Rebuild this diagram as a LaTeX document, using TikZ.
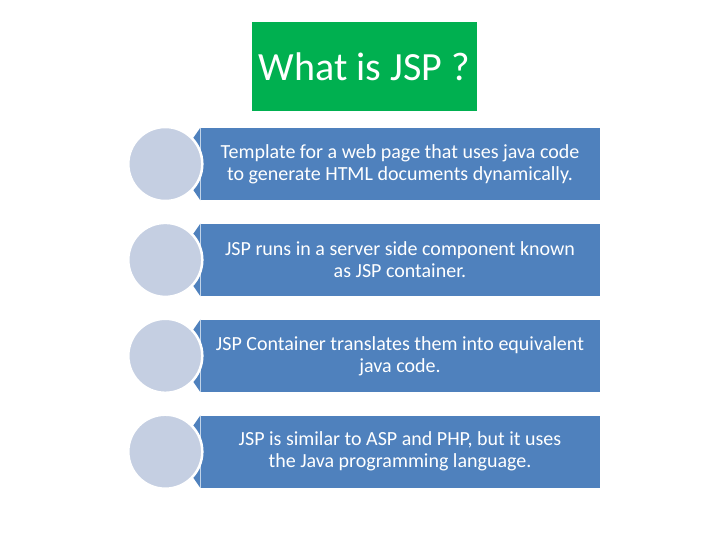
\documentclass[tikz,border=0pt]{standalone}
\usepackage{fontspec}
\setmainfont{Carlito}
\usepackage{tikz}
\usetikzlibrary{calc,positioning}
\definecolor{titlegreen}{HTML}{00B050}
\definecolor{barblue}{HTML}{4F81BD}
\definecolor{dotgrey}{HTML}{C5CFE2}

\begin{document}
\begin{tikzpicture}[x=1pt,y=-1pt,
		titlebox/.style={fill=titlegreen,text=white,minimum width=225pt,minimum height=89pt,
		font=\fontsize{40}{48}\selectfont},
		bar/.style={fill=barblue,text=white,minimum width=399pt,minimum height=72pt,
		align=center,inner sep=0pt,font=\fontsize{20}{22}\selectfont},
		dot/.style={circle,fill=dotgrey,draw=white,line width=2.5pt,minimum size=74pt,inner sep=0pt}
		]
		\useasboundingbox (0,0) rectangle (728,546);
		
		\node[titlebox](T) at (364.5,66.5){What is JSP ?};
		
		\node[bar](B1) at (400,164){Template for a web page that uses java code\\ to generate HTML documents dynamically.};
		\node[bar, below = 23.5pt of B1](B2){JSP runs in a server side component known\\ as JSP container.};
		\node[bar, below = 23.5pt of B2](B3){JSP Container translates them into equivalent\\ java code.};
		\node[bar, below = 23.5pt of B3](B4){JSP is similar to ASP and PHP, but it uses\\ the Java programming language.};
		
		% pointed left ends of the bars
		\fill[barblue] (B1.north west) -- ++(-25,36) -- (B1.south west) -- cycle;
		\fill[barblue] (B2.north west) -- ++(-25,36) -- (B2.south west) -- cycle;
		\fill[barblue] (B3.north west) -- ++(-25,36) -- (B3.south west) -- cycle;
		\fill[barblue] (B4.north west) -- ++(-25,36) -- (B4.south west) -- cycle;
		
		\node[dot](C1) at ([xshift=-35pt]B1.west){};
		\node[dot](C2) at ([xshift=-35pt]B2.west){};
		\node[dot](C3) at ([xshift=-35pt]B3.west){};
		\node[dot](C4) at ([xshift=-35pt]B4.west){};
	\end{tikzpicture}
\end{document}
